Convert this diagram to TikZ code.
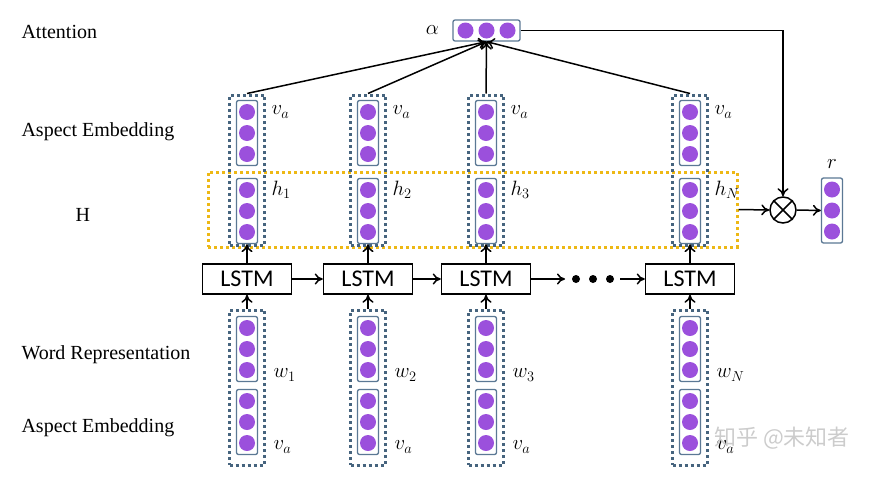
\documentclass[tikz,border=0pt]{standalone}
\usepackage{fontspec}
\setmainfont{Liberation Serif}
\newfontfamily\lstmfont{Carlito}
\newfontfamily\cjk{Noto Sans CJK SC}
\usetikzlibrary{arrows.meta,positioning}
\definecolor{dotpurple}{HTML}{9B50DC}
\definecolor{vecblue}{HTML}{5B7894}
\definecolor{boxblue}{HTML}{46647E}
\definecolor{boxyellow}{HTML}{EDB815}
\tikzset{
  vec/.style={draw=vecblue,line width=1.3pt,rounded corners=2pt,minimum width=21pt,minimum height=65pt,inner sep=0pt},
  hvec/.style={draw=vecblue,line width=1.3pt,rounded corners=2pt,minimum width=67pt,minimum height=21pt,inner sep=0pt},
  dot/.style={circle,fill=dotpurple,minimum size=16pt,inner sep=0pt},
  group/.style={draw=boxblue,line width=3pt,dash pattern=on 3pt off 3pt,inner sep=0pt},
  lstm/.style={draw,line width=1.5pt,minimum width=89pt,minimum height=30pt,inner sep=0pt,font=\lstmfont\fontsize{24}{24}\selectfont},
  lab/.style={anchor=west,font=\fontsize{20}{20}\selectfont},
  sym/.style={font=\fontsize{20}{20}\selectfont},
  arr/.style={-{To[length=8pt,width=11pt]},line width=1.5pt},
}
\newcommand{\vecnode}[3]{% name, x, center y
  \node[vec] (#1) at (#2,#3) {};
  \foreach \dy in {-21,0,21} \node[dot] at (#2,#3+\dy) {};
}
\begin{document}
\begin{tikzpicture}[x=1pt,y=-1pt]
\useasboundingbox (0,0) rectangle (883,477);
% left labels
\node[lab] at (18,32) {Attention};
\node[lab] at (18,132) {Aspect Embedding};
\node[lab] at (72,215) {H};
\node[lab] at (18,355) {Word Representation};
\node[lab] at (18,428) {Aspect Embedding};
% hidden layer frame
\node[draw=boxyellow,line width=3pt,dash pattern=on 3pt off 3pt,minimum width=529pt,minimum height=75pt] (H) at (472.5,209.5) {};
% attention vector
\node[hvec] (alpha) at (486.5,30.5) {};
\foreach \x in {-21,0,21} \node[dot] at (486.5+\x,30.5) {};
\node[sym,left=10pt of alpha] {$\alpha$};
% columns
\foreach \i/\x/\s in {1/247/1,2/368/2,3/486/3,4/690/N}{
  \node[group,minimum width=35pt,minimum height=150pt] (up\i) at (\x,170) {};
  \vecnode{va\i}{\x}{133}
  \vecnode{h\i}{\x}{211}
  \node[sym,anchor=west] at (\x+21,112) {$v_a$};
  \node[sym,anchor=west] at (\x+21,190) {$h_{\s}$};
  \node[lstm] (l\i) at (\x,279) {LSTM};
  \node[group,minimum width=35pt,minimum height=155pt] (lo\i) at (\x,387.5) {};
  \vecnode{w\i}{\x}{349}
  \vecnode{vb\i}{\x}{422}
  \node[sym,anchor=west] at (\x+23,375) {$w_{\s}$};
  \node[sym,anchor=west] at (\x+23,447) {$v_a$};
  \draw[arr] (l\i.north) -- (h\i.south);
  \draw[arr] (lo\i.north) -- (l\i.south);
  \draw[arr] (up\i.north) -- (alpha.south);
}
\draw[arr] (l1) -- (l2);
\draw[arr] (l2) -- (l3);
\coordinate (d1) at (565,279);
\coordinate (d2) at (620,279);
\draw[arr] (l3) -- (d1);
\foreach \x in {576,593,610} \fill (\x,279) circle[radius=4pt];
\draw[arr] (d2) -- (l4);
% output
\node[circle,draw,line width=1.5pt,minimum size=26pt,inner sep=0pt] (mul) at (783,210) {};
\draw[line width=1.5pt] (mul.north west) -- (mul.south east) (mul.north east) -- (mul.south west);
\node[vec] (r) at (832,210.5) {};
\foreach \dy in {-21,0,21} \node[dot] at (832,210.5+\dy) {};
\node[sym,above=5pt of r] {$r$};
\draw[arr] (alpha.east) -| (mul.north);
\draw[arr] (H.east) -- (mul.west);
\draw[arr] (mul.east) -- (r.west);
% watermark
\node[text=white!60!gray,font=\cjk\fontsize{22}{22}\selectfont] at (782,438) {知乎 @未知者};
\end{tikzpicture}
\end{document}
